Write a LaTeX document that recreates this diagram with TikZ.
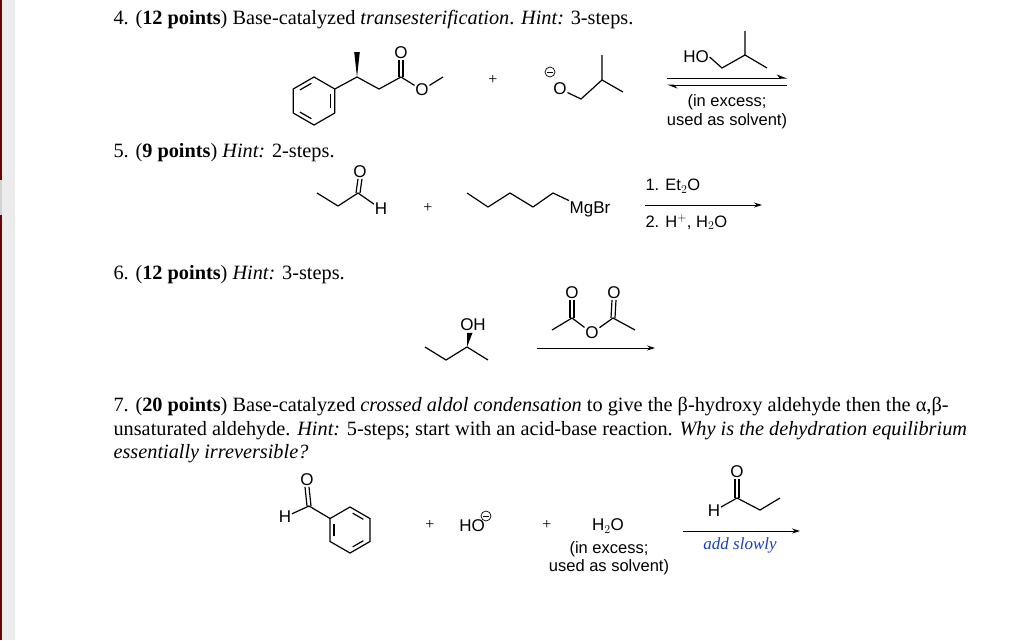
\documentclass[tikz,border=0pt]{standalone}
\usepackage{fontspec}
\setmainfont{Liberation Serif}
\newfontfamily\chemsf{Liberation Sans}
\usetikzlibrary{arrows.meta,calc}
\definecolor{addblue}{RGB}{20,60,220}
\begin{document}
\begin{tikzpicture}[x=1pt,y=-1pt,line width=1.1pt,
  atom/.style={inner sep=0.3pt,font=\chemsf\fontsize{17}{19}\selectfont},
  body/.style={inner sep=0pt,anchor=base west,font=\fontsize{20.3}{24}\selectfont},
  lab/.style={inner sep=0pt,font=\chemsf\fontsize{16.5}{18}\selectfont},
  plus/.style={inner sep=0pt,font=\fontsize{16}{18}\selectfont},
  rxn/.style={line width=1pt,-{Stealth[length=8pt,width=5pt]}},
  bond/.style={line width=1.2pt},
  minus/.style={circle,draw,line width=0.7pt,inner sep=0pt,minimum size=10pt}]
\useasboundingbox (0,0) rectangle (1024,640);
\fill[white] (0,0) rectangle (1024,640);
\fill[gray!15] (2,0) rectangle (15,640);
\fill[red!45!black] (0,0) rectangle (2,640);
\fill[gray!35] (0,180) rectangle (2,215);

% headings
\node[body] (h4) at (113,24) {4. (\textbf{12 points}) Base-catalyzed \textit{transesterification}. \textit{Hint:} 3-steps.};
\node[body] (h5) at (113,157) {5. (\textbf{9 points}) \textit{Hint:} 2-steps.};
\node[body] (h6) at (113,279) {6. (\textbf{12 points}) \textit{Hint:} 3-steps.};
\node[body] (h7a) at (113,411) {7. (\textbf{20 points}) Base-catalyzed \textit{crossed aldol condensation} to give the β-hydroxy aldehyde then the α,β-};
\node[body] (h7b) at (113,435) {unsaturated aldehyde. \textit{Hint:} 5-steps; start with an acid-base reaction. \textit{Why is the dehydration equilibrium}};
\node[body] (h7c) at (113,458) {\textit{essentially irreversible?}};

% ---- 4 ----
\foreach \i in {0,...,5} \coordinate (b\i) at ({314+24*cos(90-60*\i)},{101-24*sin(90-60*\i)});
\draw[bond] (b0)--(b1)--(b2)--(b3)--(b4)--(b5)--cycle;
\foreach \a/\b in {b1/b2,b3/b4,b5/b0}
  \draw[bond,shorten <=3pt,shorten >=3pt] ($ (\a)!0.2!(314,101) $) -- ($ (\b)!0.2!(314,101) $);
\coordinate (c1) at (357,77);
\coordinate (c1m) at (357,52);
\coordinate (c2) at (379,89);
\coordinate (c3) at (401,77);
\node[atom] (o1) at (401,53) {O};
\node[atom] (o2) at (422,90) {O};
\coordinate (c4) at (443,77);
\draw[bond] (b1)--(c1)--(c2)--(c3);
\fill (c1) -- ($(c1m)+(-2.8,0)$) -- ($(c1m)+(2.8,0)$) -- cycle;
\draw[bond] ($(c3)+(-2,0)$) -- ($(o1.south)+(-2,0)$);
\draw[bond] ($(c3)+(2,0)$) -- ($(o1.south)+(2,0)$);
\draw[bond] (c3)--(o2)--(c4);
\node[plus] (p1) at (493,80) {+};
\node[atom] (o3) at (560,89) {O};
\node[minus] (m1) at (550,72) {};
\draw[line width=0.7pt] (547,72)--(553,72);
\coordinate (d1) at (581,99);
\coordinate (d2) at (602,80);
\coordinate (d3) at (602,55);
\coordinate (d4) at (623,92);
\draw[bond] (o3)--(d1)--(d2)--(d3) (d2)--(d4);
% equilibrium
\coordinate (e1) at (667,78);
\coordinate (e2) at (787,78);
\coordinate (e3) at (787,85);
\coordinate (e4) at (667,85);
\draw[line width=1pt,-{Stealth[harpoon,length=9pt,width=7pt]}] (e1)--(e2);
\draw[line width=1pt,-{Stealth[harpoon,length=9pt,width=7pt]}] (e3)--(e4);
\node[atom] (ho1) at (696,57) {HO};
\coordinate (f1) at (722,68);
\coordinate (f2) at (745,55);
\coordinate (f3) at (745,31);
\coordinate (f4) at (767,68);
\draw[bond] (ho1.east)--(f1)--(f2)--(f3) (f2)--(f4);
\node[lab] (t1) at (727,102) {(in excess;};
\node[lab] (t2) at (727,121) {used as solvent)};

% ---- 5 ----
\coordinate (g1) at (317,193);
\coordinate (g2) at (338,206);
\coordinate (g3) at (358,193);
\node[atom] (o4) at (360,172) {O};
\node[atom] (hh1) at (381,209) {H};
\draw[bond] (g1)--(g2)--(g3)--(hh1);
\draw[bond] ($(g3)+(-2,0)$) -- ($(o4.south)+(-2,0)$);
\draw[bond] ($(g3)+(2,0)$) -- ($(o4.south)+(2,0)$);
\node[plus] (p2) at (428,208) {+};
\coordinate (k1) at (467,193);
\coordinate (k2) at (488,207);
\coordinate (k3) at (510,193);
\coordinate (k4) at (533,207);
\coordinate (k5) at (553,193);
\node[atom] (mg) at (590,209) {MgBr};
\draw[bond] (k1)--(k2)--(k3)--(k4)--(k5)--(mg.north west);
\coordinate (r1) at (645,205);
\coordinate (r2) at (762,205);
\draw[rxn] (r1)--(r2);
\node[lab,anchor=west] (t3) at (645,186) {1. Et$_2$O};
\node[lab,anchor=west] (t4) at (645,222) {2. H$^+$, H$_2$O};

% ---- 6 ----
\node[atom] (oh) at (473,325) {OH};
\coordinate (n1) at (425,347);
\coordinate (n2) at (446,360);
\coordinate (n3) at (467,347);
\coordinate (n4) at (488,360);
\draw[bond] (n1)--(n2)--(n3)--(n4);
\fill (n3) -- ($(oh.south)+(-6,1)$) -- ($(oh.south)+(-0.5,1)$) -- cycle;
\coordinate (q1) at (552,330);
\coordinate (q2) at (572,318);
\node[atom] (o5) at (572,293) {O};
\node[atom] (o6) at (592,333) {O};
\coordinate (q3) at (613,318);
\node[atom] (o7) at (614,293) {O};
\coordinate (q4) at (635,330);
\draw[bond] (q1)--(q2)--(o6)--(q3)--(q4);
\draw[bond] ($(q2)+(-2,0)$) -- ($(o5.south)+(-2,0)$);
\draw[bond] ($(q2)+(2,0)$) -- ($(o5.south)+(2,0)$);
\draw[bond] ($(q3)+(-2,0)$) -- ($(o7.south)+(-2,0)$);
\draw[bond] ($(q3)+(2,0)$) -- ($(o7.south)+(2,0)$);
\coordinate (r3) at (537,348);
\coordinate (r4) at (655,348);
\draw[rxn] (r3)--(r4);

% ---- 7 ----
\foreach \i in {0,...,5} \coordinate (z\i) at ({350+23*cos(90-60*\i)},{530-23*sin(90-60*\i)});
\draw[bond] (z0)--(z1)--(z2)--(z3)--(z4)--(z5)--cycle;
\foreach \a/\b in {z0/z1,z2/z3,z4/z5}
  \draw[bond,shorten <=3pt,shorten >=3pt] ($ (\a)!0.2!(350,530) $) -- ($ (\b)!0.2!(350,530) $);
\coordinate (y1) at (309,506);
\node[atom] (o8) at (307,480) {O};
\node[atom] (hh2) at (285,517) {H};
\draw[bond] (hh2)--(y1)--(z5);
\draw[bond] ($(y1)+(-2,0)$) -- ($(o8.south)+(-2,0)$);
\draw[bond] ($(y1)+(2,0)$) -- ($(o8.south)+(2,0)$);
\node[plus] (p3) at (430,525) {+};
\node[atom] (ho2) at (472,526) {HO};
\node[minus] (m2) at (486,516) {};
\draw[line width=0.7pt] (483,516)--(489,516);
\node[plus] (p4) at (547,525) {+};
\node[atom] (w) at (608,526) {H$_2$O};
\node[lab] (t5) at (609,549) {(in excess;};
\node[lab] (t6) at (609,567) {used as solvent)};
\coordinate (r5) at (683,531);
\coordinate (r6) at (800,531);
\draw[rxn] (r5)--(r6);
\node[inner sep=0pt,font=\fontsize{17}{19}\selectfont\itshape,text=addblue] (t7) at (740,545) {add slowly};
\node[atom] (hh3) at (714,511) {H};
\coordinate (u1) at (737,498);
\node[atom] (o9) at (737,472) {O};
\coordinate (u2) at (760,510);
\coordinate (u3) at (780,498);
\draw[bond] (hh3)--(u1)--(u2)--(u3);
\draw[bond] ($(u1)+(-2,0)$) -- ($(o9.south)+(-2,0)$);
\draw[bond] ($(u1)+(2,0)$) -- ($(o9.south)+(2,0)$);
\end{tikzpicture}
\end{document}
